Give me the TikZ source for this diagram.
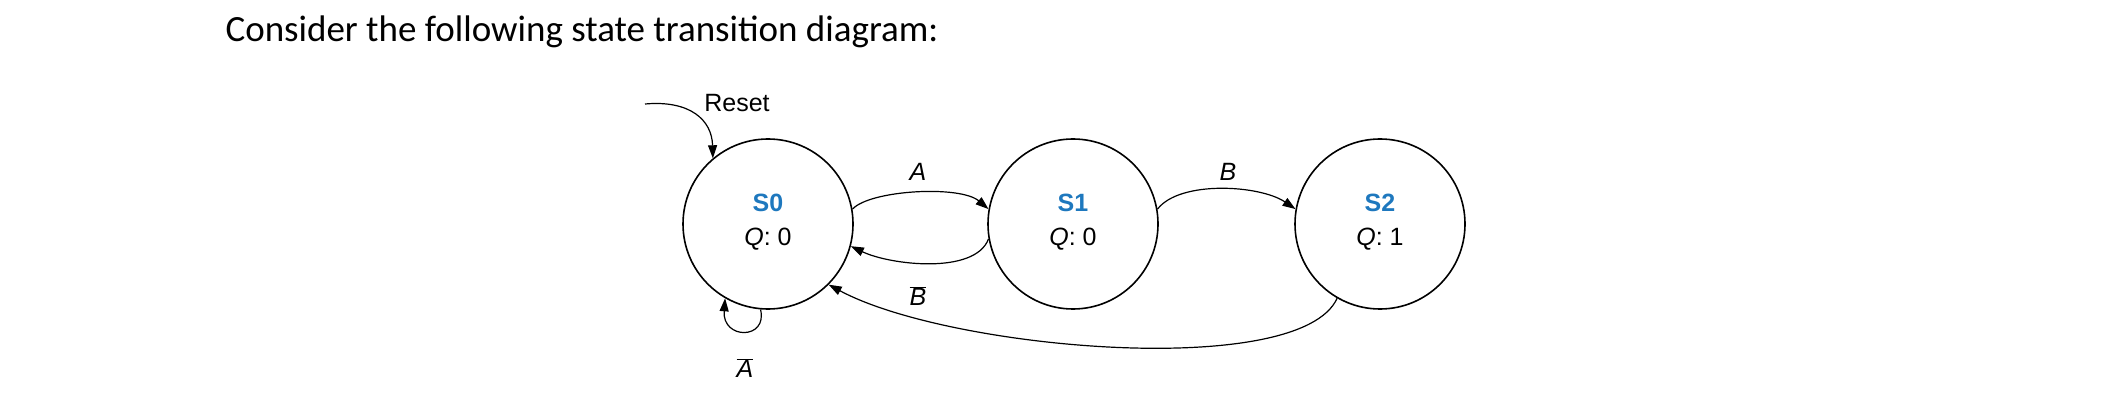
\documentclass[tikz,border=0pt]{standalone}
\usepackage{fontspec}
\setmainfont{Liberation Sans}
\newfontfamily\titlefont{Carlito}
\usetikzlibrary{arrows.meta}
\definecolor{sblue}{RGB}{30,120,190}
\begin{document}
\begin{tikzpicture}[x=1pt,y=-1pt,
  st/.style={circle,draw,line width=1.6pt,minimum size=170pt,inner sep=0pt},
  tr/.style={line width=1.2pt,-{Triangle[length=13pt,width=9pt]}},
  lb/.style={font=\fontsize{25}{27}\selectfont}]
\useasboundingbox (0,0) rectangle (2126,414);
\node[anchor=base west,font=\titlefont\fontsize{37}{40}\selectfont] (title) at (222,42) {Consider the following state transition diagram:};
\node[st] (s0) at (768,224) {};
\node[st] (s1) at (1073,224) {};
\node[st] (s2) at (1380,224) {};
\foreach \n/\t/\q in {s0/S0/0,s1/S1/0,s2/S2/1}{
  \node[text=sblue,font=\bfseries\fontsize{25}{27}\selectfont] (\n n) at ([yshift=21]\n) {\t};
  \node[lb] (\n q) at ([yshift=-15]\n) {\textit{Q}: \q};
}
\node[lb] (reset) at (737,103) {Reset};
\coordinate (rs) at (645,104);
\draw[tr] (rs) .. controls (690,100) and (712,120) .. (s0.130);
\draw[tr] (s0.10) .. controls (870,190) and (960,185) .. (s1.170);
\draw[tr] (s1.190) .. controls (975,275) and (890,265) .. (s0.345);
\draw[tr] (s1.10) .. controls (1180,180) and (1260,185) .. (s2.170);
\draw[tr] (s2.240) .. controls (1300,380) and (950,350) .. (s0.315);
\draw[tr] (s0.265) .. controls (768,340) and (722,340) .. (s0.240);
\node[lb] (la) at (918,172) {\textit{A}};
\node[lb] (lbb) at (1228,172) {\textit{B}};
\node[lb] (lnb) at (918,296) {$\overline{\mbox{\textit{B}}}$};
\node[lb] (lna) at (745,368) {$\overline{\mbox{\textit{A}}}$};
\end{tikzpicture}
\end{document}
